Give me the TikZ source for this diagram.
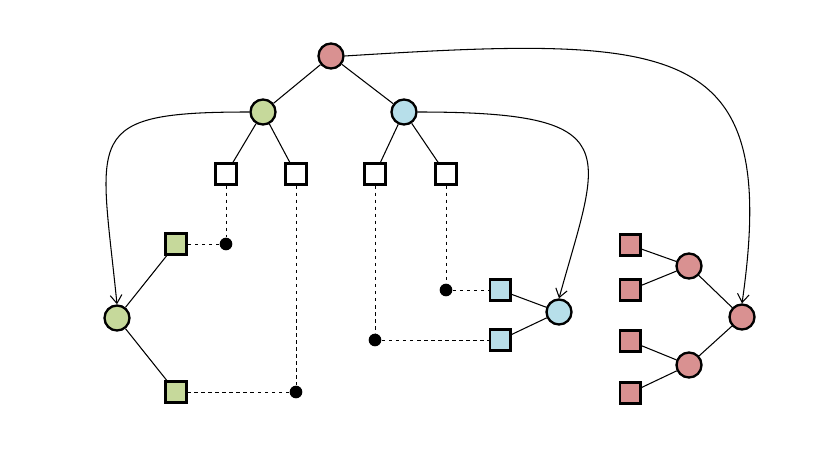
\documentclass[tikz,border=0pt]{standalone}
\usetikzlibrary{arrows.meta}
\definecolor{cred}{HTML}{D99191}
\definecolor{cgreen}{HTML}{C6D99B}
\definecolor{cblue}{HTML}{B7DFEA}
\begin{document}
\begin{tikzpicture}[x=0.03cm,y=-0.03cm,line width=0.9pt,
  circ/.style={circle,draw,line width=2pt,minimum size=0.75cm,inner sep=0pt},
  sq/.style={rectangle,draw,line width=2pt,minimum size=0.62cm,inner sep=0pt},
  dot/.style={circle,fill,inner sep=0pt,minimum size=0.38cm},
  dsh/.style={dashed,line width=0.6pt},
  arr/.style={-{Straight Barb[length=2.5mm,width=3.5mm]},line width=0.9pt}]
\useasboundingbox (0,0) rectangle (838,451);
\node[circ,fill=cred] (r) at (331,56) {};
\node[circ,fill=cgreen] (g) at (263,112) {};
\node[circ,fill=cblue] (b) at (404,112) {};
\node[sq,fill=white] (s1) at (226,174) {};
\node[sq,fill=white] (s2) at (296,174) {};
\node[sq,fill=white] (s3) at (375,174) {};
\node[sq,fill=white] (s4) at (446,174) {};
\node[dot] (d1) at (226,244) {};
\node[dot] (d2) at (296,392) {};
\node[dot] (d3) at (375,340) {};
\node[dot] (d4) at (446,290) {};
\node[sq,fill=cgreen] (gs1) at (176,244) {};
\node[sq,fill=cgreen] (gs2) at (176,392) {};
\node[circ,fill=cgreen] (gc) at (117,318) {};
\node[sq,fill=cblue] (bs1) at (500,290) {};
\node[sq,fill=cblue] (bs2) at (500,340) {};
\node[circ,fill=cblue] (bc) at (559,312) {};
\node[sq,fill=cred] (rs1) at (630,245) {};
\node[sq,fill=cred] (rs2) at (630,290) {};
\node[sq,fill=cred] (rs3) at (630,341) {};
\node[sq,fill=cred] (rs4) at (630,393) {};
\node[circ,fill=cred] (rc1) at (689,266) {};
\node[circ,fill=cred] (rc2) at (689,365) {};
\node[circ,fill=cred] (rc) at (742,317) {};
\draw (r)--(g) (r)--(b) (g)--(s1) (g)--(s2) (b)--(s3) (b)--(s4);
\draw[dsh] (s1)--(d1)--(gs1) (s2)--(d2)--(gs2) (s3)--(d3)--(bs2) (s4)--(d4)--(bs1);
\draw (gs1)--(gc) (gs2)--(gc) (bs1)--(bc) (bs2)--(bc);
\draw (rs1)--(rc1) (rs2)--(rc1) (rs3)--(rc2) (rs4)--(rc2) (rc1)--(rc) (rc2)--(rc);
\draw[arr] (g.west) .. controls (80,112) and (100,135) .. (gc.north);
\draw[arr] (b.east) .. controls (630,112) and (600,150) .. (bc.north);
\draw[arr] (r.east) .. controls (680,35) and (780,40) .. (rc.north);
\end{tikzpicture}
\end{document}
